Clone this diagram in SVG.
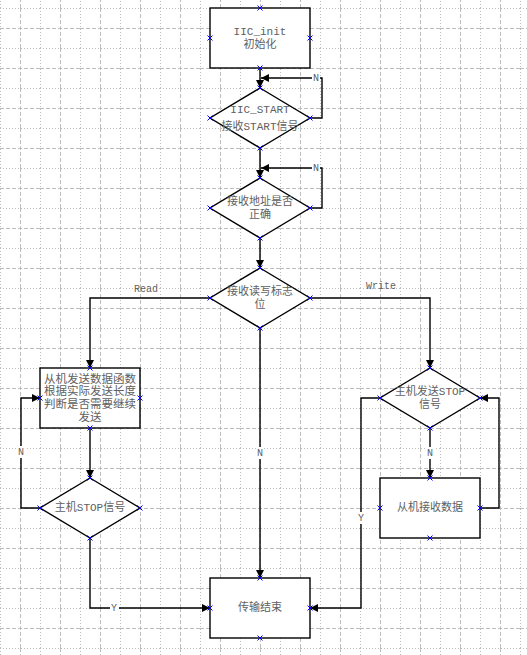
<svg xmlns="http://www.w3.org/2000/svg" xmlns:xlink="http://www.w3.org/1999/xlink" width="527" height="655" viewBox="0 0 527 655">
<style>
.n{fill:#fff;stroke:#000;stroke-width:1.4}
.c{fill:none;stroke:#000;stroke-width:1.4;marker-end:url(#ah)}
.t{font-family:"Liberation Mono","Noto Sans CJK SC",monospace;font-size:11px;fill:#606060;text-anchor:middle;dominant-baseline:central}
.l{font-family:"Liberation Mono",monospace;font-size:10px;fill:#606060;text-anchor:middle;dominant-baseline:central}
.bg{fill:#fff}
.g1{stroke:#bdbdbd;stroke-width:1;stroke-dasharray:1 2}
.g2{stroke:#bdbdbd;stroke-width:1;stroke-dasharray:4 2}
</style>
<defs>
<pattern id="grid" patternUnits="userSpaceOnUse" x="0" y="8" width="40" height="40">
<line class="g1" x1="0.5" y1="0" x2="0.5" y2="40"/>
<line class="g2" x1="20.5" y1="0" x2="20.5" y2="40"/>
<line class="g1" x1="0" y1="0.5" x2="40" y2="0.5"/>
<line class="g2" x1="0" y1="20.5" x2="40" y2="20.5"/>
</pattern>
<marker id="ah" markerUnits="userSpaceOnUse" markerWidth="9" markerHeight="8" refX="8" refY="4" orient="auto">
<path d="M0,0 L8,4 L0,8 z" fill="#000"/>
</marker>
<path id="x" d="M-2.5,-2.5L2.5,2.5M-2.5,2.5L2.5,-2.5" stroke="#0000ff" stroke-width="1" fill="none"/>
</defs>
<rect width="527" height="655" fill="#fff"/>
<rect width="527" height="655" fill="url(#grid)"/>

<g id="connectors">
<path class="c" d="M260,68 V88"/>
<path class="c" d="M310,118 H322 V78 H261"/>
<path class="c" d="M260,148 V178"/>
<path class="c" d="M310,208 H322 V168 H261"/>
<path class="c" d="M260,238 V268"/>
<path class="c" d="M210,298 H90 V368"/>
<path class="c" d="M310,298 H430 V368"/>
<path class="c" d="M260,328 V578"/>
<path class="c" d="M90,428 V478"/>
<path class="c" d="M40,508 H21 V398 H40"/>
<path class="c" d="M90,538 V608 H210"/>
<path class="c" d="M430,428 V478"/>
<path class="c" d="M480,508 H499 V398 H480"/>
<path class="c" d="M380,398 H361 V608 H310"/>
<rect class="bg" x="312" y="72" width="8" height="12"/><text class="l" x="316" y="78">N</text>
<rect class="bg" x="312" y="162" width="8" height="12"/><text class="l" x="316" y="168">N</text>
<text class="l" x="146" y="289">Read</text>
<text class="l" x="381" y="286">Write</text>
<rect class="bg" x="17" y="446" width="8" height="12"/><text class="l" x="21" y="452">N</text>
<rect class="bg" x="110" y="602" width="9" height="12"/><text class="l" x="114" y="608">Y</text>
<rect class="bg" x="256" y="447" width="8" height="12"/><text class="l" x="260" y="453">N</text>
<rect class="bg" x="426" y="447" width="8" height="12"/><text class="l" x="430" y="453">N</text>
<rect class="bg" x="357" y="512" width="8" height="12"/><text class="l" x="361" y="518">Y</text>
</g>

<g id="init">
<rect class="n" x="210" y="8" width="100" height="60"/>
<text class="t" x="260" y="32">IIC_init</text>
<text class="t" x="260" y="45">初始化</text>
</g>
<g id="start">
<polygon class="n" points="260,88 310,118 260,148 210,118"/>
<text class="t" x="260" y="110">IIC_START</text>
<text class="t" x="260" y="127">接收START信号</text>
</g>
<g id="addr">
<polygon class="n" points="260,178 310,208 260,238 210,208"/>
<text class="t" x="260" y="202">接收地址是否</text>
<text class="t" x="260" y="215">正确</text>
</g>
<g id="rw">
<polygon class="n" points="260,268 310,298 260,328 210,298"/>
<text class="t" x="260" y="292">接收读写标志</text>
<text class="t" x="260" y="305">位</text>
</g>
<g id="send">
<rect class="n" x="40" y="368" width="100" height="60"/>
<text class="t" x="90" y="379" style="font-size:11.5px">从机发送数据函数</text>
<text class="t" x="90" y="391.7" style="font-size:11.5px">根据实际发送长度</text>
<text class="t" x="90" y="404.3" style="font-size:11.5px">判断是否需要继续</text>
<text class="t" x="90" y="417" style="font-size:11.5px">发送</text>
</g>
<g id="stop1">
<polygon class="n" points="90,478 140,508 90,538 40,508"/>
<text class="t" x="90" y="508">主机STOP信号</text>
</g>
<g id="stop2">
<polygon class="n" points="430,368 480,398 430,428 380,398"/>
<text class="t" x="430" y="392">主机发送STOP</text>
<text class="t" x="430" y="405">信号</text>
</g>
<g id="recv">
<rect class="n" x="380" y="478" width="100" height="60"/>
<text class="t" x="430" y="508">从机接收数据</text>
</g>
<g id="end">
<rect class="n" x="210" y="578" width="100" height="60"/>
<text class="t" x="260" y="608">传输结束</text>
</g>

<g id="points">
<use xlink:href="#x" x="260" y="8"/><use xlink:href="#x" x="210" y="38"/><use xlink:href="#x" x="310" y="38"/><use xlink:href="#x" x="260" y="68"/>
<use xlink:href="#x" x="260" y="88"/><use xlink:href="#x" x="210" y="118"/><use xlink:href="#x" x="310" y="118"/><use xlink:href="#x" x="260" y="148"/>
<use xlink:href="#x" x="260" y="178"/><use xlink:href="#x" x="210" y="208"/><use xlink:href="#x" x="310" y="208"/><use xlink:href="#x" x="260" y="238"/>
<use xlink:href="#x" x="260" y="268"/><use xlink:href="#x" x="210" y="298"/><use xlink:href="#x" x="310" y="298"/><use xlink:href="#x" x="260" y="328"/>
<use xlink:href="#x" x="90" y="368"/><use xlink:href="#x" x="40" y="398"/><use xlink:href="#x" x="140" y="398"/><use xlink:href="#x" x="90" y="428"/>
<use xlink:href="#x" x="90" y="478"/><use xlink:href="#x" x="40" y="508"/><use xlink:href="#x" x="140" y="508"/><use xlink:href="#x" x="90" y="538"/>
<use xlink:href="#x" x="430" y="368"/><use xlink:href="#x" x="380" y="398"/><use xlink:href="#x" x="480" y="398"/><use xlink:href="#x" x="430" y="428"/>
<use xlink:href="#x" x="430" y="478"/><use xlink:href="#x" x="380" y="508"/><use xlink:href="#x" x="480" y="508"/><use xlink:href="#x" x="430" y="538"/>
<use xlink:href="#x" x="260" y="578"/><use xlink:href="#x" x="210" y="608"/><use xlink:href="#x" x="310" y="608"/><use xlink:href="#x" x="260" y="638"/>
</g>
</svg>
